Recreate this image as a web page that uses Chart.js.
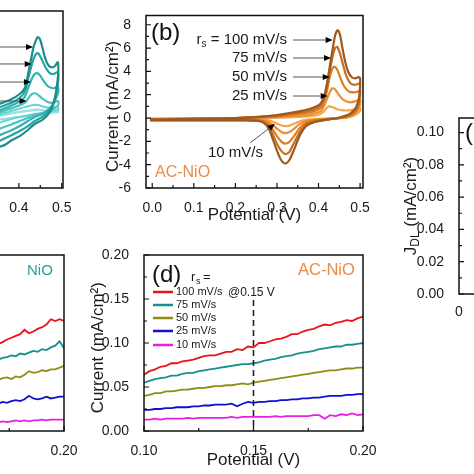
<!DOCTYPE html>
<html><head><meta charset="utf-8">
<script src="https://cdn.jsdelivr.net/npm/chart.js@4.4.1/dist/chart.umd.min.js"></script>
<style>
html,body{margin:0;padding:0;width:474px;height:474px;overflow:hidden;background:#fff;position:relative;}
canvas{position:absolute;left:0;top:0;}
</style></head><body>
<canvas id="ca" width="474" height="474"></canvas>
<canvas id="cb" width="474" height="474"></canvas>
<canvas id="cc" width="700" height="474"></canvas>
<canvas id="cd" width="474" height="474"></canvas>
<canvas id="ce" width="474" height="474"></canvas>
<script>
// ---------------- DATA ----------------
const rateLabels = ['100 mV/s','75 mV/s','50 mV/s','25 mV/s','10 mV/s'];

// (a) NiO cyclic voltammograms [potential V, current mA/cm2]
const cvNiO100 = [[0.350,0.98],[0.379,1.35],[0.402,1.86],[0.414,2.36],[0.421,3.44],[0.428,4.70],[0.435,5.87],[0.440,6.37],[0.444,6.62],[0.449,6.46],[0.454,5.87],[0.460,5.03],[0.467,4.36],[0.474,4.11],[0.481,4.11],[0.486,4.28],[0.491,4.53],[0.492,3.70],[0.489,2.61],[0.484,1.52],[0.477,0.69],[0.467,0.10],[0.454,-0.32],[0.437,-0.65],[0.421,-1.15],[0.402,-1.66],[0.384,-1.99],[0.367,-2.41],[0.350,-2.60]];
const cvNiO75 = [[0.350,0.68],[0.391,1.27],[0.412,1.94],[0.421,3.03],[0.428,4.03],[0.435,4.87],[0.442,5.28],[0.447,5.20],[0.454,4.70],[0.463,4.03],[0.472,3.61],[0.481,3.53],[0.491,3.70],[0.492,3.00],[0.488,2.10],[0.483,1.30],[0.476,0.70],[0.466,0.30],[0.454,-0.07],[0.437,-0.40],[0.421,-0.82],[0.402,-1.24],[0.379,-1.66],[0.350,-2.15]];
const cvNiO50 = [[0.350,0.43],[0.391,1.02],[0.412,1.52],[0.421,2.30],[0.428,2.95],[0.435,3.45],[0.442,3.61],[0.449,3.44],[0.458,2.94],[0.467,2.53],[0.477,2.36],[0.484,2.36],[0.491,2.53],[0.492,2.00],[0.486,1.45],[0.479,0.95],[0.467,0.52],[0.454,0.18],[0.437,-0.07],[0.421,-0.40],[0.402,-0.82],[0.379,-1.24],[0.350,-1.65]];
const cvNiO25 = [[0.350,0.27],[0.391,0.77],[0.410,1.05],[0.418,1.27],[0.426,1.70],[0.433,1.90],[0.440,1.90],[0.447,1.72],[0.456,1.45],[0.466,1.22],[0.477,1.12],[0.491,1.27],[0.492,0.95],[0.484,0.72],[0.472,0.43],[0.454,0.27],[0.437,0.10],[0.421,-0.15],[0.402,-0.40],[0.379,-0.74],[0.350,-1.10]];
const cvNiO10 = [[0.350,0.10],[0.391,0.52],[0.414,0.77],[0.433,0.94],[0.444,0.94],[0.460,0.77],[0.477,0.69],[0.491,0.77],[0.492,0.58],[0.477,0.43],[0.460,0.27],[0.437,0.18],[0.414,0.02],[0.391,-0.15],[0.367,-0.40],[0.350,-0.60]];
const cvNiO5 = [[0.350,0.00],[0.391,0.30],[0.420,0.45],[0.445,0.55],[0.470,0.45],[0.491,0.50],[0.492,0.36],[0.470,0.25],[0.445,0.15],[0.420,0.02],[0.391,-0.10],[0.350,-0.30]];

// (b) AC-NiO cyclic voltammograms
const cvAC100 = [[-0.005,-0.15],[0.05,-0.12],[0.10,-0.08],[0.15,-0.05],[0.20,0.00],[0.25,0.08],[0.30,0.25],[0.35,0.55],[0.38,0.80],[0.398,1.05],[0.406,1.30],[0.413,1.80],[0.420,2.90],[0.427,4.40],[0.434,5.90],[0.440,7.10],[0.446,7.55],[0.452,7.10],[0.458,5.90],[0.465,4.70],[0.472,3.90],[0.480,3.50],[0.488,3.40],[0.496,3.50],[0.500,3.40],[0.500,3.00],[0.498,1.80],[0.490,0.90],[0.475,0.35],[0.450,0.05],[0.420,-0.15],[0.390,-0.35],[0.370,-0.70],[0.355,-1.50],[0.340,-2.80],[0.330,-3.60],[0.320,-3.90],[0.310,-3.60],[0.300,-2.80],[0.290,-1.80],[0.280,-0.90],[0.270,-0.45],[0.255,-0.25],[0.220,-0.20],[0.150,-0.20],[0.080,-0.20],[-0.005,-0.20]];
const cvAC75 = [[-0.005,-0.13],[0.10,-0.07],[0.20,0.00],[0.30,0.20],[0.35,0.45],[0.38,0.65],[0.398,0.90],[0.406,1.10],[0.413,1.60],[0.420,2.60],[0.427,4.00],[0.434,5.30],[0.440,6.00],[0.445,6.10],[0.451,5.60],[0.458,4.70],[0.466,3.70],[0.476,3.00],[0.487,2.85],[0.497,2.95],[0.500,2.90],[0.500,2.40],[0.497,1.40],[0.490,0.70],[0.475,0.25],[0.450,0.00],[0.420,-0.12],[0.390,-0.30],[0.370,-0.55],[0.355,-1.20],[0.340,-2.20],[0.330,-2.90],[0.320,-3.10],[0.310,-2.80],[0.300,-2.20],[0.290,-1.40],[0.280,-0.70],[0.270,-0.38],[0.255,-0.22],[0.220,-0.18],[0.100,-0.18],[-0.005,-0.18]];
const cvAC50 = [[-0.005,-0.10],[0.10,-0.05],[0.20,0.00],[0.30,0.14],[0.35,0.35],[0.38,0.50],[0.398,0.72],[0.406,0.90],[0.413,1.40],[0.420,2.30],[0.427,3.50],[0.433,4.20],[0.438,4.40],[0.444,4.20],[0.452,3.50],[0.462,2.70],[0.474,2.25],[0.487,2.20],[0.500,2.30],[0.500,1.90],[0.496,1.10],[0.487,0.50],[0.470,0.15],[0.450,-0.02],[0.420,-0.10],[0.390,-0.22],[0.370,-0.40],[0.355,-0.85],[0.340,-1.60],[0.330,-2.05],[0.320,-2.20],[0.310,-2.00],[0.300,-1.55],[0.290,-1.00],[0.280,-0.55],[0.270,-0.30],[0.255,-0.18],[0.220,-0.15],[0.100,-0.15],[-0.005,-0.15]];
const cvAC25 = [[-0.005,-0.08],[0.10,-0.04],[0.20,0.00],[0.30,0.08],[0.35,0.20],[0.38,0.32],[0.398,0.48],[0.406,0.60],[0.413,1.00],[0.420,1.60],[0.427,2.20],[0.433,2.55],[0.440,2.45],[0.450,1.95],[0.460,1.55],[0.475,1.35],[0.490,1.45],[0.500,1.60],[0.500,1.20],[0.495,0.70],[0.485,0.30],[0.470,0.08],[0.450,-0.02],[0.420,-0.07],[0.390,-0.15],[0.370,-0.25],[0.355,-0.50],[0.340,-0.95],[0.330,-1.20],[0.320,-1.30],[0.310,-1.18],[0.300,-0.90],[0.290,-0.60],[0.280,-0.35],[0.270,-0.22],[0.255,-0.15],[0.220,-0.12],[0.100,-0.12],[-0.005,-0.12]];
const cvAC10 = [[-0.005,-0.06],[0.10,-0.03],[0.20,0.00],[0.30,0.04],[0.35,0.10],[0.38,0.17],[0.400,0.28],[0.410,0.48],[0.418,0.80],[0.425,1.00],[0.433,0.95],[0.445,0.75],[0.460,0.65],[0.480,0.70],[0.500,0.90],[0.500,0.60],[0.490,0.30],[0.475,0.10],[0.450,0.00],[0.420,-0.04],[0.390,-0.10],[0.370,-0.15],[0.355,-0.28],[0.340,-0.50],[0.330,-0.65],[0.320,-0.70],[0.310,-0.62],[0.300,-0.48],[0.290,-0.32],[0.280,-0.20],[0.270,-0.13],[0.250,-0.10],[0.100,-0.10],[-0.005,-0.10]];

// (d) AC-NiO non-faradaic region currents
const potAC = [0.1000,0.1025,0.1050,0.1075,0.1100,0.1125,0.1150,0.1175,0.1200,0.1225,0.1250,0.1275,0.1300,0.1325,0.1350,0.1375,0.1400,0.1425,0.1450,0.1475,0.1500,0.1525,0.1550,0.1575,0.1600,0.1625,0.1650,0.1675,0.1700,0.1725,0.1750,0.1775,0.1800,0.1825,0.1850,0.1875,0.1900,0.1925,0.1950,0.1975,0.2000];
const acRed = [0.064,0.068,0.070,0.073,0.074,0.077,0.077,0.079,0.080,0.081,0.083,0.085,0.086,0.086,0.088,0.090,0.090,0.093,0.092,0.096,0.095,0.100,0.100,0.102,0.104,0.105,0.107,0.110,0.110,0.113,0.115,0.116,0.119,0.121,0.120,0.123,0.124,0.126,0.125,0.128,0.130];
const acTeal = [0.055,0.057,0.059,0.060,0.061,0.063,0.063,0.065,0.066,0.066,0.068,0.069,0.070,0.071,0.072,0.073,0.074,0.075,0.076,0.076,0.077,0.078,0.080,0.081,0.082,0.084,0.085,0.086,0.088,0.089,0.090,0.091,0.093,0.094,0.095,0.096,0.096,0.098,0.098,0.099,0.100];
const acOlive = [0.040,0.041,0.043,0.043,0.045,0.045,0.046,0.047,0.047,0.048,0.049,0.049,0.050,0.051,0.051,0.052,0.052,0.053,0.054,0.053,0.055,0.056,0.057,0.058,0.059,0.060,0.061,0.062,0.063,0.064,0.065,0.066,0.067,0.068,0.069,0.069,0.070,0.071,0.071,0.072,0.072];
const acBlue = [0.024,0.024,0.025,0.025,0.026,0.026,0.027,0.027,0.027,0.028,0.028,0.029,0.029,0.030,0.030,0.030,0.031,0.028,0.031,0.033,0.032,0.033,0.033,0.034,0.034,0.035,0.035,0.036,0.036,0.037,0.037,0.038,0.038,0.039,0.040,0.040,0.040,0.041,0.041,0.042,0.042];
const acMagenta = [0.013,0.013,0.014,0.013,0.014,0.014,0.014,0.014,0.015,0.014,0.015,0.015,0.015,0.015,0.015,0.015,0.016,0.015,0.016,0.016,0.016,0.016,0.016,0.016,0.017,0.016,0.017,0.017,0.017,0.017,0.017,0.018,0.018,0.014,0.018,0.017,0.019,0.018,0.020,0.018,0.019];

// bottom-left NiO non-faradaic region currents
const potNiO = [0.170,0.172,0.174,0.176,0.178,0.180,0.182,0.184,0.186,0.188,0.190,0.192,0.194,0.196,0.198,0.200];
const nioRed = [0.099,0.101,0.104,0.106,0.108,0.110,0.115,0.111,0.113,0.116,0.118,0.121,0.127,0.125,0.127,0.125];
const nioTeal = [0.081,0.083,0.084,0.086,0.085,0.088,0.087,0.089,0.091,0.090,0.093,0.092,0.095,0.097,0.102,0.094];
const nioOlive = [0.058,0.060,0.061,0.059,0.062,0.061,0.064,0.068,0.066,0.067,0.069,0.068,0.070,0.070,0.072,0.074];
const nioBlue = [0.031,0.033,0.032,0.034,0.035,0.034,0.036,0.040,0.037,0.036,0.037,0.039,0.037,0.038,0.039,0.039];
const nioMagenta = [0.010,0.011,0.010,0.011,0.012,0.011,0.012,0.011,0.012,0.012,0.013,0.012,0.013,0.013,0.013,0.013];

// ---------------- STYLE ----------------
const FONT = '"Liberation Sans", Arial, sans-serif';
const TXT = '#1a1a1a';
Chart.defaults.font.family = FONT;
Chart.defaults.color = TXT;
const tealCols = ['#1f8c89','#27a3a1','#2fb5b4','#46c3c3','#6cd3d3','#98e2e2'];
const orangeCols = ['#9c5a20','#c96e1e','#de7c22','#eb8d31','#f4a648'];
const lsvCols = ['#e8141c','#15918c','#8e8e13','#1010d0','#e51fe5'];
const ORANGE_TXT = '#eb8a45';

function pts(arr){ return arr.map(p => ({x:p[0], y:p[1]})); }
function zipPts(xs, ys){ return xs.map((x,i) => ({x:x, y:ys[i]})); }
function setTicks(vals){ return s => { s.ticks = vals.map(v => ({value:v})); }; }
function base(){ return {responsive:false, animation:false, devicePixelRatio:1, events:[],
  plugins:{legend:{display:false}, tooltip:{enabled:false}}}; }
function lineDs(data, color, w, label, tension){
  return {label:label, data:data, showLine:true, borderColor:color, backgroundColor:color,
    borderWidth:w, pointRadius:0, tension:tension, fill:false};
}
function text(ctx, s, x, y, size, color, align){
  ctx.font = size + 'px ' + FONT; ctx.fillStyle = color || TXT;
  ctx.textAlign = align || 'left'; ctx.textBaseline = 'middle'; ctx.fillText(s, x, y);
}
function arrow(ctx, x1, y1, x2, y2){
  const a = Math.atan2(y2-y1, x2-x1), L = 7, W = 3;
  const bx = x2 - L*Math.cos(a), by = y2 - L*Math.sin(a);
  ctx.save();
  ctx.strokeStyle = '#555'; ctx.lineWidth = 1;
  ctx.beginPath(); ctx.moveTo(x1, y1); ctx.lineTo(bx, by); ctx.stroke();
  ctx.fillStyle = '#000';
  ctx.beginPath(); ctx.moveTo(x2, y2);
  ctx.lineTo(bx + W*Math.sin(a), by - W*Math.cos(a));
  ctx.lineTo(bx - W*Math.sin(a), by + W*Math.cos(a));
  ctx.closePath(); ctx.fill();
  ctx.restore();
}
function makeFrame(o){
  return { id:'frame', afterDatasetsDraw(chart){
    const ctx = chart.ctx, a = chart.chartArea, x = chart.scales.x, y = chart.scales.y;
    ctx.save();
    ctx.strokeStyle = '#111'; ctx.lineWidth = 1.5; ctx.lineCap = 'square';
    ctx.beginPath();
    if (o.sides.includes('t')) { ctx.moveTo(a.left, a.top); ctx.lineTo(a.right, a.top); }
    if (o.sides.includes('r')) { ctx.moveTo(a.right, a.top); ctx.lineTo(a.right, a.bottom); }
    if (o.sides.includes('b')) { ctx.moveTo(a.left, a.bottom); ctx.lineTo(a.right, a.bottom); }
    if (o.sides.includes('l')) { ctx.moveTo(a.left, a.top); ctx.lineTo(a.left, a.bottom); }
    ctx.stroke();
    ctx.lineWidth = 1.2; ctx.lineCap = 'butt';
    ctx.beginPath();
    (o.xMajor||[]).forEach(v => { const p = x.getPixelForValue(v); ctx.moveTo(p, a.bottom); ctx.lineTo(p, a.bottom-5); });
    (o.xMinor||[]).forEach(v => { const p = x.getPixelForValue(v); ctx.moveTo(p, a.bottom); ctx.lineTo(p, a.bottom-3); });
    (o.yMajor||[]).forEach(v => { const p = y.getPixelForValue(v); ctx.moveTo(a.left, p); ctx.lineTo(a.left+5, p); });
    (o.yMinor||[]).forEach(v => { const p = y.getPixelForValue(v); ctx.moveTo(a.left, p); ctx.lineTo(a.left+3, p); });
    ctx.stroke();
    ctx.restore();
    if (o.draw) { ctx.save(); o.draw(chart, ctx); ctx.restore(); }
  }};
}
const tickFont = {family:FONT, size:14};
const titleFont = {family:FONT, size:17};
function xAxis(min, max, ticks, dec, h, pad, title){
  return {type:'linear', position:'bottom', min:min, max:max,
    grid:{display:false}, border:{display:false},
    afterBuildTicks:setTicks(ticks), afterFit:s => { s.height = h; },
    ticks:{font:tickFont, color:TXT, padding:pad, maxRotation:0, autoSkip:false, callback:v => Number(v).toFixed(dec)},
    title: title ? {display:true, text:title, font:titleFont, color:TXT, padding:{top:0, bottom:0}} : {display:false}};
}
function yAxis(min, max, ticks, dec, w, titleText, titlePad){
  return {type:'linear', position:'left', min:min, max:max,
    grid:{display:false}, border:{display:false},
    afterBuildTicks:setTicks(ticks), afterFit:s => { s.width = w; },
    ticks:{font:tickFont, color:TXT, padding:7, autoSkip:false, callback:v => Number(v).toFixed(dec)},
    title: titleText ? {display:true, text:titleText, font:titleFont, color:TXT, padding:{top:titlePad, bottom:0}} : {display:false}};
}

// ---------------- (a) NiO CV, partial ----------------
{
  const curves = [cvNiO100, cvNiO75, cvNiO50, cvNiO25, cvNiO10, cvNiO5];
  const o = base();
  o.layout = {padding:{left:0, top:11, right:411, bottom:256}};
  o.scales = { x: xAxis(0.356, 0.503, [0.4, 0.5], 1, 30, 4, null),
               y: {type:'linear', display:false, min:-6, max:8.8} };
  new Chart(document.getElementById('ca'), {
    type:'scatter',
    data:{datasets: curves.map((c,i) => lineDs(pts(c), tealCols[i], 2.2, 'NiO '+i, 0.25))},
    options:o,
    plugins:[makeFrame({sides:'trb', xMajor:[0.4,0.5], xMinor:[0.45], draw:(chart, ctx) => {
      const x = chart.scales.x, y = chart.scales.y;
      const tips = [[0.433,5.79],[0.430,4.37],[0.428,2.86],[0.418,1.27]];
      tips.forEach(t => { const py = y.getPixelForValue(t[1]); arrow(ctx, -5, py, x.getPixelForValue(t[0]), py); });
    }})]
  });
}

// ---------------- (b) AC-NiO CV ----------------
{
  const curves = [cvAC100, cvAC75, cvAC50, cvAC25, cvAC10];
  const o = base();
  o.layout = {padding:{left:100, top:13, right:111, bottom:244}};
  const xa = xAxis(-0.015, 0.507, [0,0.1,0.2,0.3,0.4,0.5], 1, 42, 4, 'Potential (V)');
  xa.title.padding = {top:0, bottom:4};
  o.scales = { x: xa, y: yAxis(-6, 8.8, [-6,-4,-2,0,2,4,6,8], 0, 46, 'Current (mA/cm²)  ', 3) };
  new Chart(document.getElementById('cb'), {
    type:'scatter',
    data:{datasets: curves.map((c,i) => lineDs(pts(c), orangeCols[i], 2.2, rateLabels[i], 0.25))},
    options:o,
    plugins:[makeFrame({sides:'trbl', xMajor:[0,0.1,0.2,0.3,0.4,0.5], xMinor:[0.05,0.15,0.25,0.35,0.45],
      yMajor:[-6,-4,-2,0,2,4,6,8], yMinor:[-5,-3,-1,1,3,5,7], draw:(chart, ctx) => {
      const x = chart.scales.x, y = chart.scales.y;
      text(ctx, '(b)', 151, 33, 24, '#111');
      const rows = [40, 58, 77, 96];
      const tipsV = [0.434, 0.430, 0.427, 0.422];
      const right = 287;
      // r_s = 100 mV/s
      text(ctx, ' = ' + rateLabels[0], right, rows[0], 15, TXT, 'right');
      ctx.font = '15px ' + FONT; const w0 = ctx.measureText(' = ' + rateLabels[0]).width;
      text(ctx, 's', right - w0, rows[0] + 4, 10, TXT, 'right');
      ctx.font = '10px ' + FONT; const ws = ctx.measureText('s').width;
      text(ctx, 'r', right - w0 - ws, rows[0], 15, TXT, 'right');
      for (let i = 1; i < 4; i++) text(ctx, rateLabels[i], right, rows[i], 15, TXT, 'right');
      rows.forEach((r,i) => arrow(ctx, 293, r, x.getPixelForValue(tipsV[i]), r));
      text(ctx, rateLabels[4], 208, 153, 15, TXT, 'left');
      arrow(ctx, 250, 143, x.getPixelForValue(0.295), y.getPixelForValue(-0.5));
      text(ctx, 'AC-NiO', 155, 173, 16, ORANGE_TXT, 'left');
    }})]
  });
}

// ---------------- (c) J_DL vs scan rate, partial ----------------
{
  const o = base();
  o.layout = {padding:{left:399, top:118, right:40, bottom:150}};
  o.scales = { x: xAxis(0, 110, [0,20,40,60,80,100], 0, 30, 2, null),
               y: yAxis(0, 0.109, [0,0.02,0.04,0.06,0.08,0.10], 2, 60, null, 0) };
  new Chart(document.getElementById('cc'), {
    type:'scatter', data:{datasets:[]}, options:o,
    plugins:[makeFrame({sides:'trbl', yMajor:[0,0.02,0.04,0.06,0.08,0.10], yMinor:[0.01,0.03,0.05,0.07,0.09],
      draw:(chart, ctx) => {
      const a = chart.chartArea;
      text(ctx, '(c)', 465, 133, 24, '#111');
      ctx.translate(411, (a.top + a.bottom)/2); ctx.rotate(-Math.PI/2);
      ctx.font = '17px ' + FONT; const wJ = ctx.measureText('J').width; const wR = ctx.measureText(' (mA/cm²)').width;
      ctx.font = '12px ' + FONT; const wD = ctx.measureText('DL').width;
      const sx = -(wJ + wD + wR)/2;
      text(ctx, 'J', sx, 0, 17, TXT);
      text(ctx, 'DL', sx + wJ, 5, 12, TXT);
      text(ctx, ' (mA/cm²)', sx + wJ + wD, 0, 17, TXT);
    }})]
  });
}

// ---------------- (d) AC-NiO LSV ----------------
{
  const series = [acRed, acTeal, acOlive, acBlue, acMagenta];
  const o = base();
  o.layout = {padding:{left:80, top:255, right:111, bottom:3}};
  o.scales = { x: xAxis(0.1, 0.2, [0.1,0.15,0.2], 2, 40, 4, 'Potential (V)'),
               y: yAxis(0, 0.2, [0,0.05,0.1,0.15,0.2], 2, 64, 'Current (mA/cm²)  ', 8) };
  new Chart(document.getElementById('cd'), {
    type:'scatter',
    data:{datasets: series.map((s,i) => lineDs(zipPts(potAC, s), lsvCols[i], 1.8, rateLabels[i], 0))},
    options:o,
    plugins:[makeFrame({sides:'trbl', xMajor:[0.1,0.15,0.2], xMinor:[0.125,0.175],
      yMajor:[0,0.05,0.1,0.15,0.2], yMinor:[0.025,0.075,0.125,0.175], draw:(chart, ctx) => {
      const x = chart.scales.x, y = chart.scales.y;
      ctx.setLineDash([6,4]); ctx.lineWidth = 1.6; ctx.strokeStyle = '#222';
      ctx.beginPath(); ctx.moveTo(x.getPixelForValue(0.15), y.getPixelForValue(0.149));
      ctx.lineTo(x.getPixelForValue(0.15), y.getPixelForValue(0)); ctx.stroke();
      ctx.setLineDash([]);
      text(ctx, '(d)', 152, 275, 24, '#111');
      text(ctx, 'r', 191, 277, 13, TXT);
      text(ctx, 's', 196, 282, 9, TXT);
      text(ctx, '=', 203, 277, 13, TXT);
      const rows = [292, 305, 318, 331, 345];
      rows.forEach((r,i) => {
        ctx.strokeStyle = lsvCols[i]; ctx.lineWidth = 2.5;
        ctx.beginPath(); ctx.moveTo(153, r); ctx.lineTo(173, r); ctx.stroke();
        text(ctx, rateLabels[i], 176, r, 11, TXT);
      });
      text(ctx, '@0.15 V', 228, 293, 12, TXT);
      text(ctx, 'AC-NiO', 298, 270, 16.5, ORANGE_TXT);
    }})]
  });
}

// ---------------- bottom-left NiO LSV, partial ----------------
{
  const series = [nioRed, nioTeal, nioOlive, nioBlue, nioMagenta];
  const o = base();
  o.layout = {padding:{left:0, top:255, right:410, bottom:13}};
  o.scales = { x: xAxis(0.1708, 0.2, [0.2], 2, 30, 4, null),
               y: {type:'linear', display:false, min:0, max:0.2} };
  new Chart(document.getElementById('ce'), {
    type:'scatter',
    data:{datasets: series.map((s,i) => lineDs(zipPts(potNiO, s), lsvCols[i], 1.8, rateLabels[i], 0))},
    options:o,
    plugins:[makeFrame({sides:'trb', xMajor:[0.2], xMinor:[0.175], draw:(chart, ctx) => {
      text(ctx, 'NiO', 27, 271, 15, '#2a9d9a');
    }})]
  });
}
</script>
</body></html>
